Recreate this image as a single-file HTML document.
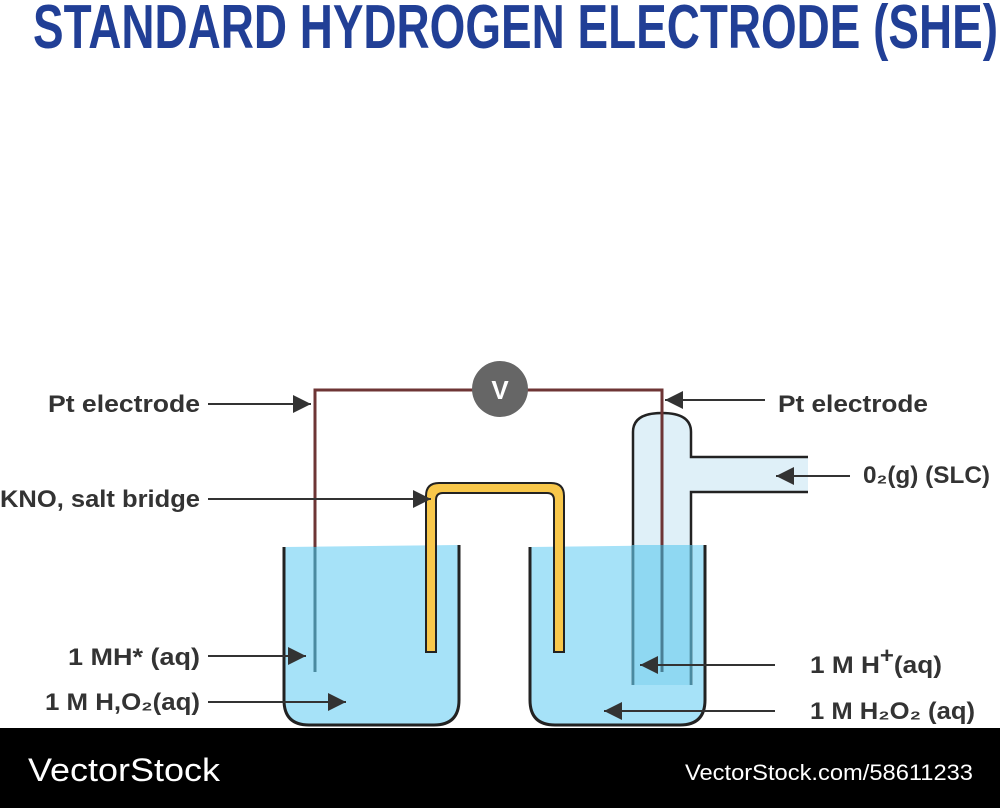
<!DOCTYPE html>
<html><head><meta charset="utf-8"><style>
html,body{margin:0;padding:0;background:#fff;}
svg{display:block;}
text{font-family:"Liberation Sans",sans-serif;}
</style></head><body>
<svg width="1000" height="808" viewBox="0 0 1000 808" xmlns="http://www.w3.org/2000/svg">
<defs>
<marker id="ar" viewBox="0 0 10 10" refX="10" refY="5" markerWidth="18" markerHeight="18" markerUnits="userSpaceOnUse" orient="auto">
<path d="M0,0 L10,5 L0,10 z" fill="#333"/></marker>
</defs>
<text x="33" y="48" font-size="62" font-weight="bold" fill="#213f96" textLength="965" lengthAdjust="spacingAndGlyphs">STANDARD HYDROGEN ELECTRODE (SHE)</text>

<path d="M285,547 L458,545 L458,700 Q458,725 433,725 L310,725 Q285,725 285,700 Z" fill="#a6e2f8"/>
<path d="M531,547 L704,545 L704,700 Q704,725 679,725 L556,725 Q531,725 531,700 Z" fill="#a6e2f8"/>

<path d="M633,685 L633,432 Q633,413 662,413 Q691,413 691,432 L691,457 L808,457 L808,492 L691,492 L691,685 Z" fill="#dff0f8"/>
<rect x="633" y="545" width="58" height="140" fill="#90d8f2"/>
<path d="M633,685 L633,432 Q633,413 662,413 Q691,413 691,432 L691,457 L808,457 M808,492 L691,492 L691,685" fill="none" stroke="#222" stroke-width="2.5"/>
<rect x="633" y="545" width="58" height="140" fill="#90d8f2" opacity="0.6"/>
<line x1="633" y1="545" x2="633" y2="685" stroke="#4a8aa0" stroke-width="2.5"/>
<line x1="691" y1="545" x2="691" y2="685" stroke="#4a8aa0" stroke-width="2.5"/>

<path d="M284,547 L284,700 Q284,725 309,725 L434,725 Q459,725 459,700 L459,545" fill="none" stroke="#222" stroke-width="3"/>
<path d="M530,547 L530,700 Q530,725 555,725 L680,725 Q705,725 705,700 L705,545" fill="none" stroke="#222" stroke-width="3"/>

<path d="M426,652 L426,496 Q426,483 439,483 L551,483 Q564,483 564,496 L564,652 L554,652 L554,500 Q554,493 547,493 L443,493 Q436,493 436,500 L436,652 Z" fill="#f8c74a" stroke="#222" stroke-width="2"/>

<path d="M315,547 L315,390 L662,390 L662,545" fill="none" stroke="#6e3535" stroke-width="3"/>
<line x1="315" y1="547" x2="315" y2="672" stroke="#4a8aa0" stroke-width="3"/>
<line x1="662" y1="545" x2="662" y2="672" stroke="#4a7f95" stroke-width="3"/>
<circle cx="500" cy="389" r="28" fill="#666"/>
<text x="500" y="399" font-size="26" font-weight="bold" fill="#fff" text-anchor="middle">V</text>

<g stroke="#333" stroke-width="2" marker-end="url(#ar)">
<line x1="208" y1="404" x2="311" y2="404"/>
<line x1="765" y1="400" x2="665" y2="400"/>
<line x1="208" y1="499" x2="431" y2="499"/>
<line x1="850" y1="476" x2="776" y2="476"/>
<line x1="208" y1="656" x2="306" y2="656"/>
<line x1="208" y1="702" x2="346" y2="702"/>
<line x1="775" y1="665" x2="640" y2="665"/>
<line x1="775" y1="711" x2="604" y2="711"/>
</g>

<g font-size="24" font-weight="bold" fill="#333" lengthAdjust="spacingAndGlyphs">
<text x="48" y="412" textLength="152" lengthAdjust="spacingAndGlyphs">Pt electrode</text>
<text x="778" y="412" textLength="150" lengthAdjust="spacingAndGlyphs">Pt electrode</text>
<text x="0" y="507" textLength="200" lengthAdjust="spacingAndGlyphs">KNO, salt bridge</text>
<text x="863" y="483" textLength="127" lengthAdjust="spacingAndGlyphs">0₂(g) (SLC)</text>
<text x="68" y="665" textLength="132" lengthAdjust="spacingAndGlyphs">1 MH* (aq)</text>
<text x="45" y="710" textLength="155" lengthAdjust="spacingAndGlyphs">1 M H,O₂(aq)</text>
<text x="810" y="673" textLength="132" lengthAdjust="spacingAndGlyphs">1 M H<tspan dy="-10" font-size="22">+</tspan><tspan dy="10">(aq)</tspan></text>
<text x="810" y="719" textLength="165" lengthAdjust="spacingAndGlyphs">1 M H₂O₂ (aq)</text>
</g>

<rect x="0" y="728" width="1000" height="80" fill="#000"/>
<text x="28" y="781" font-size="32" fill="#fff" textLength="192" lengthAdjust="spacingAndGlyphs">VectorStock</text>
<text x="685" y="780" font-size="22" fill="#fff" textLength="288" lengthAdjust="spacingAndGlyphs">VectorStock.com/58611233</text>
</svg>
</body></html>
